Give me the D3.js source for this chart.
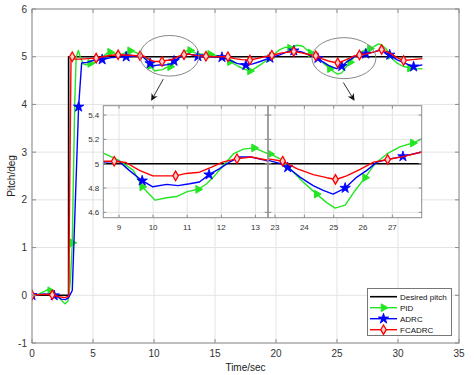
<!DOCTYPE html>
<html><head><meta charset="utf-8">
<script src="https://cdn.jsdelivr.net/npm/d3@7"></script>
<style>body{margin:0;background:#fff}svg{display:block;font-family:"Liberation Sans",Arial,sans-serif}</style>
</head><body><svg id="c" width="474" height="375"></svg>
<script>
// ---------------- data ----------------
const xTicks = [0,5,10,15,20,25,30,35];
const yTicks = [-1,0,1,2,3,4,5,6];
const inset1XTicks = [9,10,11,12,13];
const inset2XTicks = [23,24,25,26,27];
const insetYTicks = [4.6,4.8,5,5.2,5.4];
const seriesNames = ["Desired pitch","PID","ADRC","FCADRC"];

const desired = [[0,0],[3.0,0],[3.0,5],[32,5]];
const pid = [[0,0],[0.5,0.02],[1.0,0.08],[1.3,0.12],[1.6,0.08],[2.0,0.0],[2.4,-0.1],[2.7,-0.18],[2.95,-0.12],[3.15,0.3],[3.3,1.1],[3.5,4.0],[3.62,5.0],[3.8,5.13],[3.95,5.0],[4.2,4.85],[4.4,4.83],[4.75,4.86],[5.0,4.86],[5.4,4.92],[5.8,5.0],[6.2,5.08],[6.5,5.1],[6.9,5.06],[7.2,5.04],[7.6,5.08],[8.1,5.13],[8.54,5.087],[9.0,5.027],[9.42,4.945],[9.68,4.81],[10.06,4.70],[10.4,4.72],[10.69,4.73],[11.0,4.77],[11.33,4.79],[11.57,4.835],[11.8,4.90],[12.06,4.985],[12.35,5.08],[12.65,5.12],[12.96,5.13],[13.43,5.075],[13.8,5.06],[14.6,5.05],[15.2,5.02],[15.7,4.98],[16.2,4.9],[16.9,4.8],[17.4,4.74],[17.9,4.7],[18.3,4.76],[18.7,4.83],[19.1,4.9],[19.5,4.97],[19.9,5.06],[20.3,5.15],[20.8,5.2],[21.15,5.18],[21.7,5.24],[22.2,5.22],[22.5,5.15],[22.77,5.11],[22.83,5.08],[23.28,5.027],[23.57,4.945],[23.91,4.86],[24.42,4.75],[24.76,4.68],[25.05,4.635],[25.39,4.66],[25.73,4.78],[26.07,4.885],[26.41,5.0],[26.81,5.08],[27.27,5.14],[27.7,5.17],[28.0,5.205],[28.4,5.27],[28.7,5.24],[29.07,5.15],[29.4,5.0],[29.9,4.87],[30.4,4.80],[31.0,4.76],[31.4,4.74],[32.0,4.75]];
const adrc = [[0,0],[0.5,0.01],[1.0,0.03],[1.5,0.02],[2.0,-0.02],[2.4,-0.08],[2.75,-0.09],[3.0,-0.05],[3.3,0.1],[3.82,3.95],[4.07,4.87],[4.5,4.88],[5.0,4.92],[5.75,4.94],[6.5,4.98],[7.72,5.0],[8.54,5.013],[9.0,5.02],[9.3,4.945],[9.68,4.86],[9.99,4.81],[10.4,4.83],[10.73,4.82],[11.07,4.835],[11.36,4.85],[11.64,4.91],[11.95,4.96],[12.24,5.013],[12.53,5.055],[12.87,5.055],[13.2,5.033],[13.7,5.0],[14.5,5.0],[15.55,4.99],[16.2,4.93],[16.8,4.86],[17.5,4.82],[18.1,4.85],[18.7,4.9],[19.45,4.97],[20.3,5.04],[20.9,5.1],[21.4,5.13],[22.1,5.1],[22.5,5.06],[22.77,5.027],[23.13,5.005],[23.45,4.967],[23.85,4.89],[24.3,4.82],[24.64,4.78],[24.98,4.75],[25.39,4.80],[25.79,4.89],[26.13,4.945],[26.47,5.013],[26.93,5.04],[27.36,5.06],[28.0,5.096],[28.5,5.14],[29.2,5.06],[29.9,4.94],[30.6,4.86],[31.25,4.79],[32.0,4.83]];
const fcadrc = [[0,0],[0.5,0.01],[1.0,0.02],[1.66,0.01],[2.2,-0.03],[2.7,-0.05],[3.0,-0.02],[3.1,2.5],[3.2,5.0],[3.3,5.0],[3.46,4.95],[4.0,4.95],[4.6,4.96],[5.26,4.97],[6.0,5.01],[6.5,5.03],[7.06,5.04],[8.0,5.03],[8.54,5.02],[8.86,5.02],[9.2,5.01],[9.6,4.945],[9.99,4.90],[10.4,4.90],[10.66,4.90],[10.97,4.92],[11.36,4.93],[11.7,4.97],[12.04,5.013],[12.43,5.04],[12.87,5.055],[13.4,5.027],[14.26,5.01],[15.0,5.0],[16.06,5.0],[16.6,4.96],[17.2,4.94],[17.86,4.93],[18.6,4.97],[19.66,5.03],[20.5,5.08],[21.46,5.11],[22.1,5.08],[22.77,5.04],[23.28,5.02],[23.74,4.96],[24.3,4.91],[24.76,4.885],[25.08,4.87],[25.44,4.90],[25.9,4.953],[26.36,5.013],[26.84,5.035],[27.4,5.06],[28.0,5.096],[28.66,5.15],[29.3,5.08],[30.0,4.97],[30.46,4.92],[31.2,4.94],[32.0,4.96]];

const pidMarkT = [0,1.49,3.3,4.77,6.4,8.04,9.68,11.32,12.96,14.6,16.23,17.87,19.51,21.15,22.83,24.42,26.07,27.7,29.34,30.98];
const adrcMarkT = [0,1.82,3.82,5.75,7.72,9.68,11.64,13.6,15.57,17.53,19.5,21.46,23.43,25.39,27.36,29.32,31.28];
const fcadrcMarkT = [0,1.66,3.3,5.26,7.06,8.86,10.66,12.46,14.26,16.06,17.86,19.66,21.46,23.26,25.06,26.84,28.66,30.46];

// --------------- drawing ---------------
const svg = d3.select("#c");
const GRID="#e3e3e3", FRAME="#8c8c8c", TXT="#333";
const series = [
  {name:seriesNames[0], data:desired, color:"#000", marks:[], sym:null, w:1.6},
  {name:seriesNames[1], data:pid, color:"#22e622", marks:pidMarkT, sym:"tri", w:1.4},
  {name:seriesNames[2], data:adrc, color:"#0000ff", marks:adrcMarkT, sym:"star", w:1.4},
  {name:seriesNames[3], data:fcadrc, color:"#ff0000", marks:fcadrcMarkT, sym:"dia", w:1.4}
];
function interp(data,t){
  const i = d3.bisector(d=>d[0]).left(data,t);
  if(i<=0) return data[0][1];
  if(i>=data.length) return data[data.length-1][1];
  const a=data[i-1], b=data[i];
  if(b[0]===a[0]) return b[1];
  return a[1]+(b[1]-a[1])*(t-a[0])/(b[0]-a[0]);
}
function drawMarker(g,s,px,py){
  if(s.sym==="tri"){
    g.append("path").attr("d",d3.symbol(d3.symbolTriangle,26)()).attr("transform",`translate(${px},${py}) rotate(90)`)
      .attr("fill",s.color).attr("stroke",s.color).attr("stroke-width",1);
  } else if(s.sym==="star"){
    g.append("path").attr("d",d3.symbol(d3.symbolStar,34)()).attr("transform",`translate(${px},${py})`)
      .attr("fill",s.color).attr("stroke",s.color).attr("stroke-width",0.8);
  } else if(s.sym==="dia"){
    g.append("path").attr("d",d3.symbol(d3.symbolDiamond,26)()).attr("transform",`translate(${px},${py})`)
      .attr("fill","#ffd0d0").attr("stroke",s.color).attr("stroke-width",1.3);
  }
}
let clipId=0;
function panel(x,y,opts){
  const g=svg.append("g");
  const [x0,x1]=x.range(), [y0,y1]=y.range();
  const id="clip"+(clipId++);
  svg.append("clipPath").attr("id",id).append("rect").attr("x",x0).attr("y",y1).attr("width",x1-x0).attr("height",y0-y1);
  g.append("rect").attr("x",x0).attr("y",y1).attr("width",x1-x0).attr("height",y0-y1).attr("fill","#fff");
  g.append("g").selectAll("line").data(opts.xt).join("line")
    .attr("x1",d=>x(d)).attr("x2",d=>x(d)).attr("y1",y1).attr("y2",y0).attr("stroke",GRID).attr("stroke-width",1);
  g.append("g").selectAll("line").data(opts.yt).join("line")
    .attr("y1",d=>y(d)).attr("y2",d=>y(d)).attr("x1",x0).attr("x2",x1).attr("stroke",GRID).attr("stroke-width",1);
  const pg=g.append("g").attr("clip-path",`url(#${id})`);
  const line=d3.line().x(d=>x(d[0])).y(d=>y(d[1]));
  series.forEach(s=>{
    pg.append("path").attr("d",line(s.data)).attr("fill","none").attr("stroke",s.color).attr("stroke-width",s.w).attr("stroke-linejoin","round");
    s.marks.forEach(t=>drawMarker(pg,s,x(t),y(interp(s.data,t))));
  });
  g.append("rect").attr("x",x0).attr("y",y1).attr("width",x1-x0).attr("height",y0-y1).attr("fill","none").attr("stroke",FRAME).attr("stroke-width",1);
  const tl=opts.tl;
  g.append("g").selectAll("line").data(opts.xt).join("line")
    .attr("x1",d=>x(d)).attr("x2",d=>x(d)).attr("y1",y0).attr("y2",y0-tl).attr("stroke",FRAME);
  g.append("g").selectAll("line").data(opts.xt).join("line")
    .attr("x1",d=>x(d)).attr("x2",d=>x(d)).attr("y1",y1).attr("y2",y1+tl).attr("stroke",FRAME);
  g.append("g").selectAll("line").data(opts.yt).join("line")
    .attr("y1",d=>y(d)).attr("y2",d=>y(d)).attr("x1",x0).attr("x2",x0+tl).attr("stroke",FRAME);
  g.append("g").selectAll("line").data(opts.yt).join("line")
    .attr("y1",d=>y(d)).attr("y2",d=>y(d)).attr("x1",x1).attr("x2",x1-tl).attr("stroke",FRAME);
  g.append("g").selectAll("text").data(opts.xt).join("text")
    .attr("x",d=>x(d)).attr("y",y0+opts.xlo).attr("text-anchor","middle").attr("font-size",opts.fs).attr("fill",TXT).text(d=>d);
  if(opts.ylab){
    g.append("g").selectAll("text").data(opts.yt).join("text")
      .attr("x",x0-opts.ylo).attr("y",d=>y(d)).attr("dy","0.35em").attr("text-anchor","end").attr("font-size",opts.fs).attr("fill",TXT).text(d=>d);
  }
  return g;
}

const x = d3.scaleLinear().domain([0,35]).range([32,459]);
const y = d3.scaleLinear().domain([-1,6]).range([343,9]);
panel(x,y,{xt:xTicks,yt:yTicks,tl:4,fs:10,xlo:14,ylo:5,ylab:true});

svg.append("text").attr("x",x(17.5)).attr("y",371).attr("text-anchor","middle").attr("font-size",10).attr("fill","#222").text("Time/sec");
svg.append("text").attr("transform",`translate(15,${y(2.5)}) rotate(-90)`).attr("text-anchor","middle").attr("font-size",10).attr("fill","#222").text("Pitch/deg");

const defs=svg.append("defs");
defs.append("marker").attr("id","ah").attr("viewBox","0 0 10 10").attr("refX",9).attr("refY",5)
  .attr("markerWidth",7).attr("markerHeight",7).attr("orient","auto")
  .append("path").attr("d","M0,0 L10,5 L0,10 L3,5 Z").attr("fill","#111");
svg.append("ellipse").attr("cx",x(11.27)).attr("cy",y(5.02)).attr("rx",29.5).attr("ry",20.3).attr("fill","none").attr("stroke","#888").attr("stroke-width",1);
svg.append("ellipse").attr("cx",x(25.57)).attr("cy",y(4.97)).attr("rx",32).attr("ry",20.5).attr("fill","none").attr("stroke","#888").attr("stroke-width",1);
svg.append("line").attr("x1",x(10.76)).attr("y1",y(4.53)).attr("x2",x(9.8)).attr("y2",y(4.09)).attr("stroke","#333").attr("stroke-width",1).attr("marker-end","url(#ah)");
svg.append("line").attr("x1",x(25.52)).attr("y1",y(4.46)).attr("x2",x(26.4)).attr("y2",y(4.09)).attr("stroke","#333").attr("stroke-width",1).attr("marker-end","url(#ah)");

const yi = d3.scaleLinear().domain([4.556,5.477]).range([217.7,105.7]);
const x1s = d3.scaleLinear().domain([8.54,13.36]).range([103.3,267.7]);
const x2s = d3.scaleLinear().domain([22.77,28.0]).range([268.3,421.7]);
panel(x1s,yi,{xt:inset1XTicks,yt:insetYTicks,tl:3,fs:8,xlo:12,ylo:4,ylab:true});
panel(x2s,yi,{xt:inset2XTicks,yt:insetYTicks,tl:3,fs:8,xlo:12,ylo:4,ylab:false});

const lg=svg.append("g");
lg.append("rect").attr("x",367.5).attr("y",288.5).attr("width",84).attr("height",47).attr("fill","#fff").attr("stroke","#777");
series.forEach((s,i)=>{
  const yy=296.7+i*11;
  lg.append("line").attr("x1",370).attr("x2",397).attr("y1",yy).attr("y2",yy).attr("stroke",s.color).attr("stroke-width",s.w);
  if(s.sym) drawMarker(lg,s,383.5,yy);
  lg.append("text").attr("x",400).attr("y",yy).attr("dy","0.35em").attr("font-size",8).attr("fill","#111").text(s.name);
});
</script></body></html>
